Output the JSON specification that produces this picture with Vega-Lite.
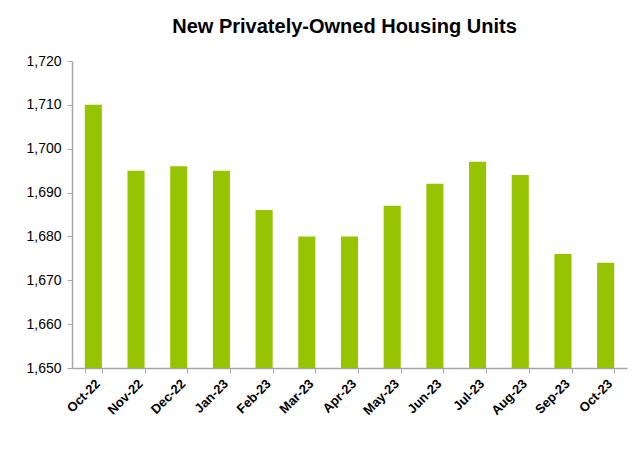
{
  "$schema": "https://vega.github.io/schema/vega-lite/v6.json",
  "width": 555,
  "height": 307,
  "autosize": "none",
  "padding": {"left": 72, "top": 61, "right": 13, "bottom": 82},
  "background": "white",
  "title": {
    "text": "New Privately-Owned Housing Units",
    "font": "Liberation Sans",
    "fontSize": 20,
    "fontWeight": "bold",
    "color": "#000000",
    "anchor": "middle",
    "dx": -5,
    "offset": 17
  },
  "data": {
    "values": [
      {"month": "Oct-22", "units": 1710},
      {"month": "Nov-22", "units": 1695},
      {"month": "Dec-22", "units": 1696},
      {"month": "Jan-23", "units": 1695},
      {"month": "Feb-23", "units": 1686},
      {"month": "Mar-23", "units": 1680},
      {"month": "Apr-23", "units": 1680},
      {"month": "May-23", "units": 1687},
      {"month": "Jun-23", "units": 1692},
      {"month": "Jul-23", "units": 1697},
      {"month": "Aug-23", "units": 1694},
      {"month": "Sep-23", "units": 1676},
      {"month": "Oct-23", "units": 1674}
    ]
  },
  "mark": {"type": "bar", "color": "#97C400", "clip": true},
  "encoding": {
    "x": {
      "field": "month",
      "type": "nominal",
      "sort": null,
      "title": null,
      "scale": {"paddingInner": 0.6, "paddingOuter": 0.3},
      "axis": {
        "labelAngle": -45,
        "labelAlign": "right",
        "labelBaseline": "top",
        "labelFont": "Liberation Sans",
        "labelFontSize": 13,
        "labelFontWeight": "bold",
        "labelColor": "#000000",
        "labelPadding": 4,
        "tickBand": "extent",
        "tickColor": "#A6A6A6",
        "tickSize": 5,
        "domainColor": "#A6A6A6",
        "domainWidth": 1.5,
        "grid": false
      }
    },
    "y": {
      "field": "units",
      "type": "quantitative",
      "title": null,
      "scale": {"domain": [1650, 1720], "zero": false, "nice": false},
      "axis": {
        "values": [1650, 1660, 1670, 1680, 1690, 1700, 1710, 1720],
        "format": ",.0f",
        "labelFont": "Liberation Sans",
        "labelFontSize": 14,
        "labelColor": "#000000",
        "labelPadding": 6,
        "tickColor": "#A6A6A6",
        "tickSize": 5,
        "domainColor": "#A6A6A6",
        "domainWidth": 1.5,
        "grid": false
      }
    }
  },
  "config": {"view": {"stroke": null}}
}
